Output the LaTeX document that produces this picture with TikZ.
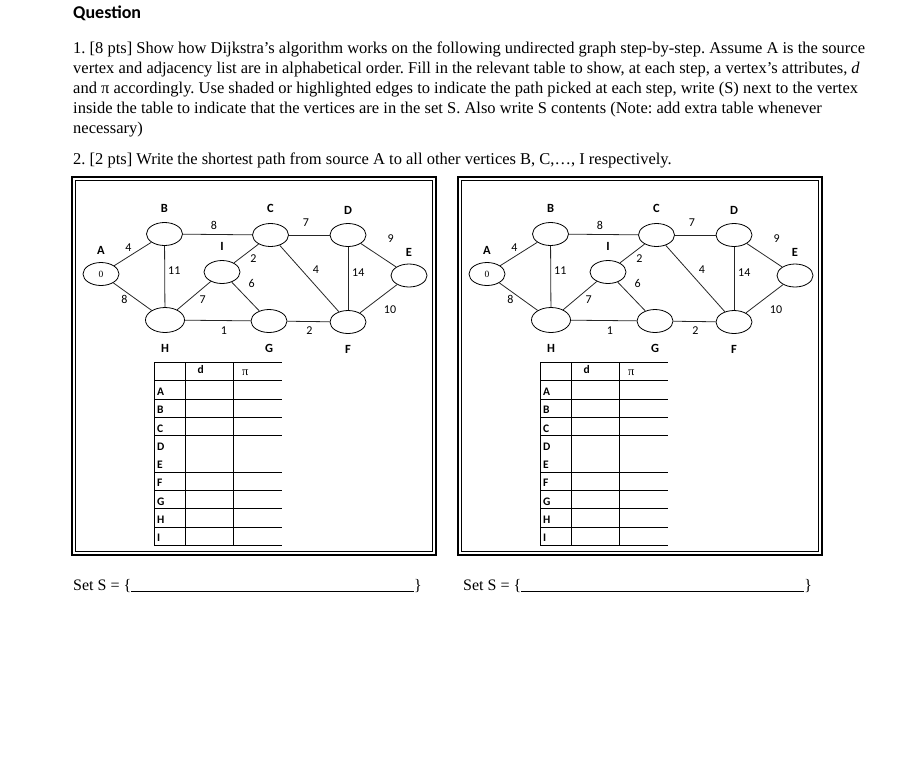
\documentclass[tikz,border=0pt]{standalone}
\usepackage{fontspec}
\setmainfont{Liberation Serif}
\newfontfamily\calibri{Carlito}
\usetikzlibrary{positioning,shapes.geometric}
\frenchspacing

\begin{document}
\begin{tikzpicture}[
  x=1pt,y=-1pt,
  vtx/.style={ellipse,draw=black,line width=0.8pt,minimum width=36pt,minimum height=23pt,
              inner sep=0pt,font=\fontsize{9.5}{10}\selectfont},
  vlab/.style={inner sep=0pt,font=\calibri\bfseries\fontsize{12.5}{12.5}\selectfont},
  wt/.style={inner sep=0pt,font=\calibri\fontsize{12}{12}\selectfont},
  link/.style={line width=0.8pt,black!85},
  tabline/.style={line width=0.8pt},
  rowlab/.style={anchor=west,inner sep=0pt,font=\calibri\bfseries\fontsize{11.5}{11.5}\selectfont},
  para/.style={anchor=base west,inner sep=0pt,align=left,font=\fontsize{16.5}{20}\selectfont},
]
\useasboundingbox (0,0) rectangle (912,766);

% ---------- question text ----------
\node[anchor=base west,inner sep=0pt,font=\calibri\bfseries\fontsize{18}{18}\selectfont]
  (title) at (73,18.3) {Question};
\node[para] (q1) at (73,133.3)
  {1. [8 pts] Show how Dijkstra’s algorithm works on the following undirected graph step-by-step. Assume A is the source\\
   vertex and adjacency list are in alphabetical order. Fill in the relevant table to show, at each step, a vertex’s attributes, \textit{d}\\
   and π accordingly. Use shaded or highlighted edges to indicate the path picked at each step, write (S) next to the vertex\\
   inside the table to indicate that the vertices are in the set S. Also write S contents (Note: add extra table whenever\\
   necessary)};
\node[para] (q2) at (73,164)
  {2. [2 pts] Write the shortest path from source A to all other vertices B, C,…, I respectively.};

% ---------- two answer panels ----------
\foreach \p/\dx/\sx in {a/0/73,b/386/77}{
\begin{scope}[shift={(\dx,0)}]
  \draw[line width=1.8pt] (72,177.3) rectangle (436,555);
  \draw[line width=1.1pt] (75.3,180.6) rectangle (432.7,551.7);
  % graph
  \node[vtx] (\p-A) at (101,274) {0};
  \node[vtx] (\p-B) at (164.5,234) {};
  \node[vtx] (\p-C) at (270.5,235) {};
  \node[vtx] (\p-D) at (348,235) {};
  \node[vtx] (\p-E) at (409,275.5) {};
  \node[vtx] (\p-I) at (222,272) {};
  \node[vtx,minimum width=39pt,minimum height=25pt] (\p-H) at (165,320) {};
  \node[vtx] (\p-G) at (269,321) {};
  \node[vtx] (\p-F) at (348,322) {};
  \node[vlab,above=7pt of \p-A] (\p-lA) {A};
  \node[vlab,above=9pt of \p-B] (\p-lB) {B};
  \node[vlab,above=10pt of \p-C] (\p-lC) {C};
  \node[vlab,above=8.5pt of \p-D] (\p-lD) {D};
  \node[vlab,above=7pt of \p-E] (\p-lE) {E};
  \node[vlab,above=9pt of \p-I] (\p-lI) {I};
  \node[vlab,below=11.5pt of \p-H] (\p-lH) {H};
  \node[vlab,below=11.5pt of \p-G] (\p-lG) {G};
  \node[vlab,below=11pt of \p-F] (\p-lF) {F};
  \foreach \u/\v in {A/B,A/H,B/C,B/H,C/D,C/I,C/F,D/E,D/F,E/F,H/I,H/G,I/G,G/F}
    \draw[link] (\p-\u) -- (\p-\v);
  \foreach \e/\w/\xx/\yy in {AB/4/128.3/247.7,BC/8/214/225.7,CD/7/306/222.3,DE/9/390.7/238.3,
      BH/11/174.3/271,CI/2/253.3/258.3,CF/4/316/270,DF/14/358.3/272.3,IG/6/251.7/283.3,
      HI/7/202.7/299.3,AH/8/124.5/299,EF/10/390/310,HG/1/224/331,GF/2/309.3/331}
    \node[wt] (\p-w\e) at (\xx,\yy) {\w};
  % table
  \foreach \k in {0,...,4,6,7,8,9,10}
    \draw[tabline] (154.3,362.3+18.3*\k) -- (281.7,362.3+18.3*\k);
  \foreach \xx in {154.3,185.7,233.3}
    \draw[tabline] (\xx,362.3) -- (\xx,545.3);
  \node[anchor=base west,inner sep=0pt,font=\calibri\bfseries\fontsize{11.5}{11.5}\selectfont]
    (\p-hd) at (197.5,373.5) {d};
  \node[anchor=base west,inner sep=0pt,font=\fontsize{12.5}{12.5}\selectfont]
    (\p-hpi) at (242,375.5) {π};
  \foreach \r [count=\k] in {A,...,I}
    \node[rowlab] (\p-r\r) at (157,373.4+18.3*\k) {\r};
  \node[anchor=base west,inner sep=0pt,font=\fontsize{16}{16}\selectfont]
    (\p-set) at (\sx,590.7) {Set S = \{\rule[-1pt]{283pt}{0.7pt}\}};
\end{scope}
}
\end{tikzpicture}
\end{document}
